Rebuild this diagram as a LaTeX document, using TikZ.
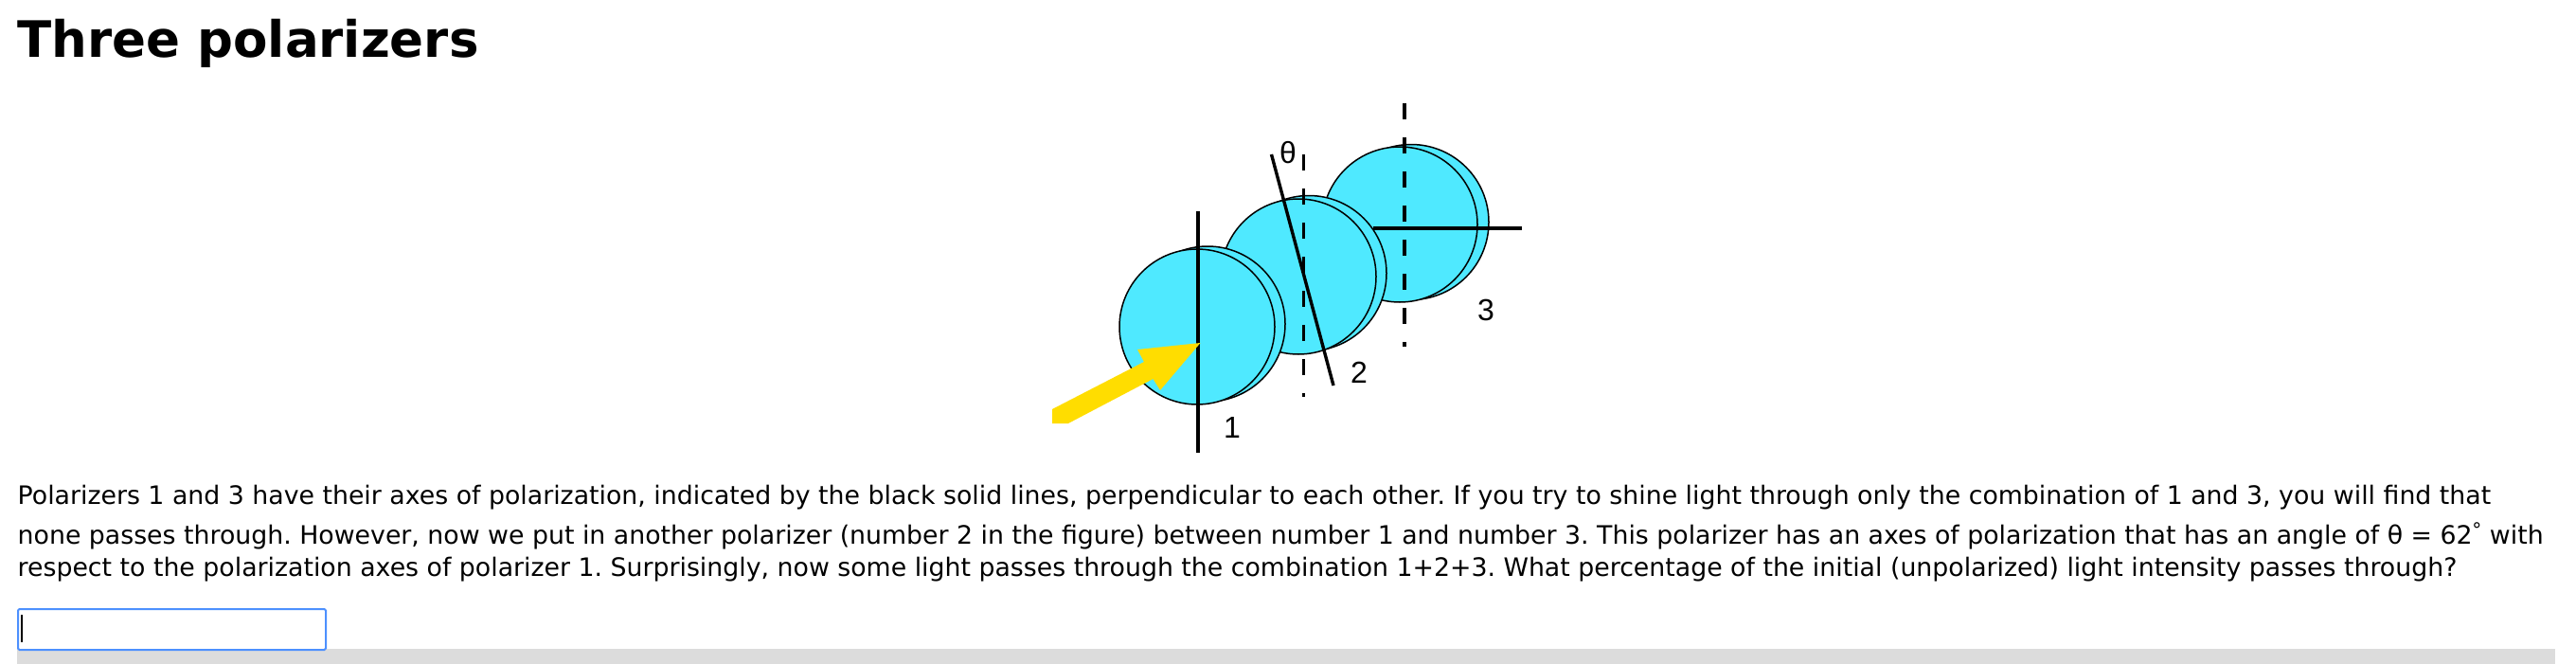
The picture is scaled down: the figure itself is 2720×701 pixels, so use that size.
\documentclass[tikz,border=0pt]{standalone}
\usepackage{fontspec}
\setmainfont{DejaVu Sans}
\newfontfamily\figfont{Liberation Sans}
\definecolor{disc}{HTML}{4FE9FF}
\definecolor{beam}{HTML}{FFDD00}
\definecolor{focus}{HTML}{4D90FE}
\definecolor{band}{HTML}{DCDCDC}
\tikzset{
  discface/.style={draw=black,fill=disc,line width=1.5pt},
  axisline/.style={draw=black,line width=3.4pt},
  dashaxis/.style={draw=black,line width=3.2pt,dash pattern=on 17pt off 19pt},
  figlabel/.style={inner sep=0pt,font=\figfont\fontsize{32}{36}\selectfont},
  bodyline/.style={anchor=base west,inner sep=0pt,font=\frenchspacing\fontsize{26.76}{32}\selectfont},
}
\begin{document}
\begin{tikzpicture}[x=1pt,y=-1pt]
\useasboundingbox (0,0) rectangle (2720,701);
\fill[white] (0,0) rectangle (2720,701);
\node[anchor=base west,inner sep=0pt,font=\bfseries\fontsize{53}{60}\selectfont] (title) at (18,61) {Three polarizers};
% disc 3
\fill[discface] (1490,234.5) circle (82);
\fill[discface] (1478,237) circle (82);
\draw[dashaxis] (1483,109) coordinate (d3a) -- (1483,366) coordinate (d3b);
\coordinate (a3a) at (1450,241);
\coordinate (a3b) at (1607,241);
\draw[axisline] (a3a) -- (a3b);
% disc 2
\fill[discface] (1382,288.5) circle (82);
\fill[discface] (1371,292) circle (82);
\draw[dashaxis] (1376.5,163) coordinate (d2a) -- (1376.5,419) coordinate (d2b);
\coordinate (a2a) at (1342.5,163);
\coordinate (a2b) at (1408,407);
\draw[axisline] (a2a) -- (a2b);
% disc 1
\fill[discface] (1275,342) circle (82);
\fill[discface] (1264,345) circle (82);
\coordinate (a1a) at (1265,223);
\coordinate (a1b) at (1265,478);
\draw[axisline] (a1a) -- (a1b);
\fill[beam] (1111,432) -- (1208,382) -- (1201,369) -- (1267.5,362) -- (1225,412) -- (1217.5,400) -- (1128,447) -- (1111,447) -- cycle;
\node[figlabel] (n1) at (1301,451) {1};
\node[figlabel] (n2) at (1435,393) {2};
\node[figlabel] (n3) at (1569,327) {3};
\node[figlabel] (nt) at (1360,161) {θ};
% text
\node[bodyline] (l1) at (18.5,532.5) {Polarizers 1 and 3 have their axes of polarization, indicated by the black solid lines, perpendicular to each other. If you try to shine light through only the combination of 1 and 3, you will find that};
\node[bodyline] (l2) at (18.5,574) {none passes through. However, now we put in another polarizer (number 2 in the figure) between number 1 and number 3. This polarizer has an axes of polarization that has an angle of θ = 62\raisebox{8pt}{\fontsize{20}{22}\selectfont °} with};
\node[bodyline] (l3) at (18.5,608) {respect to the polarization axes of polarizer 1. Surprisingly, now some light passes through the combination 1+2+3. What percentage of the initial (unpolarized) light intensity passes through?};
% input
\fill[band] (18,685) rectangle (2698,701);
\node[draw=focus,line width=2pt,rounded corners=1.5pt,fill=white,minimum width=325pt,minimum height=43pt,inner sep=0pt,anchor=north west] (box) at (18,642) {};
\coordinate (ca) at (23,649);
\coordinate (cb) at (23,678);
\draw[black,line width=1.6pt] (ca) -- (cb);
\end{tikzpicture}
\end{document}
